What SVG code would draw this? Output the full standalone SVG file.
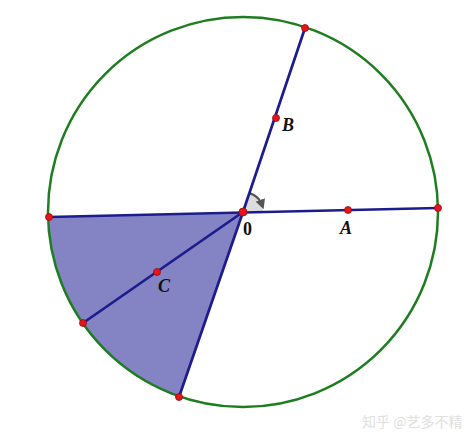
<svg xmlns="http://www.w3.org/2000/svg" width="474" height="440" viewBox="0 0 474 440">
<style>
.ln{stroke:#1c1c8e;stroke-width:2.7;fill:none;stroke-linecap:round}
.pt{fill:#e8141c;stroke:#9a0a10;stroke-width:0.8}
.lb{font-family:"Liberation Serif",serif;font-style:italic;font-weight:bold;font-size:18px;fill:#111}
</style>
<defs>
<marker id="ah" viewBox="0 0 10 10" refX="6" refY="5" markerWidth="4.5" markerHeight="4.5" orient="auto"><path d="M0,0 L10,5 L0,10 z" fill="#555"/></marker>
</defs>
<rect width="474" height="440" fill="#fff"/>
<g id="sector">
<path d="M243,212 L49,217 A195,195 0 0 0 179,397 Z" fill="#8484c4"/>
</g>
<g id="angle">
<path d="M243,212 L249.5,193.1 A20,20 0 0 1 263,211.6 Z" fill="#dcdcdc"/>
<path d="M249.5,193.1 A20,20 0 0 1 262.3,205.5" fill="none" stroke="#555" stroke-width="2.2" marker-end="url(#ah)"/>
</g>
<g id="circle">
<circle cx="243" cy="212" r="195" fill="none" stroke="#1e7d1e" stroke-width="2.5"/>
</g>
<g id="connectors">
<line class="ln" x1="49" y1="217" x2="438" y2="208"/>
<line class="ln" x1="243" y1="212" x2="305" y2="28"/>
<line class="ln" x1="243" y1="212" x2="83" y2="323"/>
<line class="ln" x1="243" y1="212" x2="179" y2="397"/>
</g>
<g id="points">
<circle class="pt" cx="243" cy="212" r="4"/>
<circle class="pt" cx="438" cy="208" r="3.5"/>
<circle class="pt" cx="305" cy="28" r="3.5"/>
<circle class="pt" cx="49" cy="217" r="3.5"/>
<circle class="pt" cx="179" cy="397" r="3.5"/>
<circle class="pt" cx="83" cy="323" r="3.5"/>
<circle class="pt" cx="348" cy="210" r="3.5"/>
<circle class="pt" cx="276" cy="118" r="3.5"/>
<circle class="pt" cx="157" cy="272" r="3.5"/>
</g>
<g id="labels">
<text class="lb" x="340" y="234">A</text>
<text class="lb" x="282" y="131">B</text>
<text class="lb" x="158" y="292">C</text>
<text x="243" y="235" font-family="Liberation Serif,serif" font-weight="bold" font-size="18" fill="#111">0</text>
</g>
<g id="watermark">
<text x="362" y="427" font-family="Noto Sans CJK SC,sans-serif" font-size="14" fill="#e0e0e0">知乎 @艺多不精</text>
</g>
</svg>
